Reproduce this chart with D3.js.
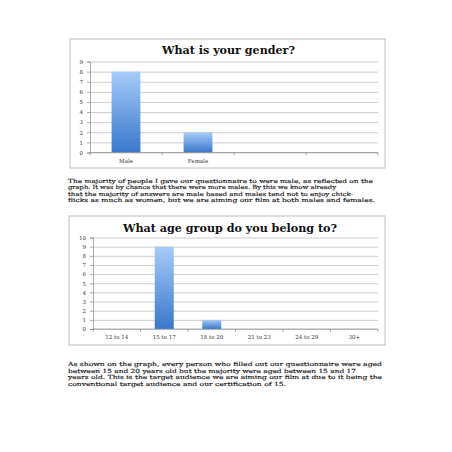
<!DOCTYPE html>
<html>
<head>
<meta charset="utf-8">
<script src="https://cdn.jsdelivr.net/npm/d3@7"></script>
<style>
	body { margin: 0; background: #fff; }
	svg { display: block; }
	.tick text { font-family: "DejaVu Serif", serif; fill: #333; }
	.para { font-family: "DejaVu Serif", serif; font-size: 5.6px; fill: #1a1a1a; stroke: #1a1a1a; stroke-width: 0.15px; }
	.title { font-family: "DejaVu Serif", serif; font-weight: bold; font-size: 11px; fill: #111; }
</style>
</head>
<body>
<div id="graphic"></div>
<script>
// gender chart data
const genderCategories = ["Male", "Female", "", ""];
const genderValues = [8, 2, 0, 0];
const genderTicks = [0, 1, 2, 3, 4, 5, 6, 7, 8, 9];

// age chart data
const ageCategories = ["12 to 14", "15 to 17", "18 to 20", "21 to 23", "24 to 29", "30+"];
const ageValues = [0, 9, 1, 0, 0, 0];
const ageTicks = [0, 1, 2, 3, 4, 5, 6, 7, 8, 9, 10];

const genderText = [
	"The majority of people I gave our questionnaire to were male, as reflected on the",
	"graph. It was by chance that there were more males. By this we know already",
	"that the majority of answers are male based and males tend not to enjoy chick-",
	"flicks as much as women, but we are aiming our film at both males and females."
];
const ageText = [
	"As shown on the graph, every person who filled out our questionnaire were aged",
	"between 15 and 20 years old but the majority were aged between 15 and 17",
	"years old. This is the target audience we are aiming our film at due to it being the",
	"conventional target audience and our certification of 15."
];

const svg = d3.select('#graphic').append('svg')
	.attr('width', 452)
	.attr('height', 452);

// bar gradient
const grad = svg.append('defs').append('linearGradient')
	.attr('id', 'barGrad')
	.attr('x1', 0).attr('y1', 0).attr('x2', 0).attr('y2', 1);
grad.append('stop').attr('offset', '0%').attr('stop-color', '#a6cbf8');
grad.append('stop').attr('offset', '100%').attr('stop-color', '#3a77cb');

function drawChart(opts) {
	// frame
	svg.append('rect')
		.attr('x', opts.frame[0]).attr('y', opts.frame[1])
		.attr('width', opts.frame[2]).attr('height', opts.frame[3])
		.attr('fill', '#fff')
		.attr('stroke', '#bdbdbd')
		.attr('stroke-width', 1);

	svg.append('text')
		.attr('class', 'title')
		.attr('x', opts.titleX).attr('y', opts.titleY)
		.attr('textLength', opts.titleW)
		.attr('lengthAdjust', 'spacingAndGlyphs')
		.text(opts.title);

	const x = d3.scaleBand()
		.domain(d3.range(opts.categories.length))
		.range([opts.left, opts.right])
		.paddingInner(0.6)
		.paddingOuter(0.3);

	const y = d3.scaleLinear()
		.domain([0, d3.max(opts.ticks)])
		.range([opts.bottom, opts.top]);

	// grid lines
	svg.append('g')
		.attr('class', 'grid')
		.attr('transform', `translate(${opts.left},0)`)
		.call(d3.axisLeft(y).tickValues(opts.ticks).tickSize(-(opts.right - opts.left)).tickFormat(''))
		.call(g => g.select('.domain').remove())
		.call(g => g.selectAll('line').attr('stroke', '#b8b8b8').attr('stroke-width', 0.7));

	// y axis
	svg.append('g')
		.attr('class', 'y axis')
		.attr('transform', `translate(${opts.left},0)`)
		.call(d3.axisLeft(y).tickValues(opts.ticks).tickSize(3).tickPadding(4))
		.call(g => g.select('.domain').attr('stroke', '#888').attr('stroke-width', 0.7))
		.call(g => g.selectAll('line').attr('stroke', '#888').attr('stroke-width', 0.7))
		.call(g => g.selectAll('text').attr('font-size', 5.5));

	// bars
	svg.append('g')
		.selectAll('rect')
		.data(opts.values)
		.join('rect')
		.attr('x', (d, i) => x(i))
		.attr('width', x.bandwidth())
		.attr('y', d => y(d))
		.attr('height', d => opts.bottom - y(d))
		.attr('fill', 'url(#barGrad)');

	// x axis baseline and tick marks between categories
	const step = x.step();
	const xAxis = svg.append('g').attr('class', 'x axis');
	xAxis.append('line')
		.attr('x1', opts.left).attr('x2', opts.right)
		.attr('y1', opts.bottom).attr('y2', opts.bottom)
		.attr('stroke', '#888').attr('stroke-width', 0.7);
	xAxis.selectAll('.xtick')
		.data(d3.range(opts.categories.length + 1))
		.join('line')
		.attr('class', 'xtick')
		.attr('x1', i => opts.left + i * step).attr('x2', i => opts.left + i * step)
		.attr('y1', opts.bottom).attr('y2', opts.bottom + 3)
		.attr('stroke', '#888').attr('stroke-width', 0.7);
	xAxis.selectAll('.xlabel')
		.data(opts.categories)
		.join('text')
		.attr('class', 'xlabel')
		.attr('x', (d, i) => x(i) + x.bandwidth() / 2)
		.attr('y', opts.bottom + 10)
		.attr('text-anchor', 'middle')
		.attr('font-family', '"DejaVu Serif", serif')
		.attr('font-size', 5.5)
		.attr('fill', '#333')
		.text(d => d);
}

function drawParagraph(lines, top, ends) {
	svg.append('g')
		.selectAll('text')
		.data(lines)
		.join('text')
		.attr('class', 'para')
		.attr('x', 68)
		.attr('y', (d, i) => top + i * 6.5)
		.attr('textLength', (d, i) => ends[i] - 68)
		.attr('lengthAdjust', 'spacingAndGlyphs')
		.text(d => d);
}

drawChart({
	frame: [70, 39, 315, 129],
	title: "What is your gender?",
	titleX: 162, titleY: 54, titleW: 133,
	categories: genderCategories,
	values: genderValues,
	ticks: genderTicks,
	left: 90, right: 378, top: 61.5, bottom: 152.5
});

drawParagraph(genderText, 182.5, [373, 336, 353, 375]);

drawChart({
	frame: [69, 216, 316, 129],
	title: "What age group do you belong to?",
	titleX: 123, titleY: 231.5, titleW: 214,
	categories: ageCategories,
	values: ageValues,
	ticks: ageTicks,
	left: 93, right: 378, top: 237.5, bottom: 329
});

drawParagraph(ageText, 366, [382, 356, 382, 286]);
</script>
</body>
</html>
